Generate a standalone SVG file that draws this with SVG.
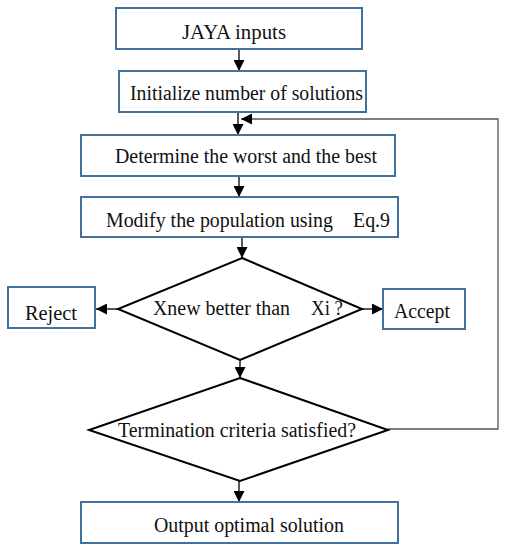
<svg xmlns="http://www.w3.org/2000/svg" width="505" height="550" viewBox="0 0 505 550">
<defs>
<style>
.box{fill:#fff;stroke:#41719c;stroke-width:2}
.dia{fill:#fff;stroke:#000;stroke-width:2}
.t{font-family:'Liberation Serif','DejaVu Serif',serif;font-size:20px;fill:#111}
.c{stroke:#000;stroke-width:1.3;fill:none}
.fb{stroke:#555;stroke-width:1.3;fill:none}
</style>
<marker id="ah" viewBox="0 0 10 10" refX="10" refY="5" markerWidth="11" markerHeight="11" markerUnits="userSpaceOnUse" orient="auto">
<path d="M0,0 L10,5 L0,10 z" fill="#000"/>
</marker>
</defs>
<rect width="505" height="550" fill="#fff"/>
<g id="connectors">
<line class="c" x1="239" y1="49" x2="239" y2="71" marker-end="url(#ah)"/>
<line class="c" x1="238" y1="112" x2="238" y2="135" marker-end="url(#ah)"/>
<line class="c" x1="239" y1="176" x2="239" y2="197" marker-end="url(#ah)"/>
<line class="c" x1="242" y1="237" x2="242" y2="258" marker-end="url(#ah)"/>
<line class="c" x1="118" y1="309" x2="96" y2="309" marker-end="url(#ah)"/>
<line class="c" x1="362" y1="309" x2="383" y2="309" marker-end="url(#ah)"/>
<line class="c" x1="240" y1="360" x2="240" y2="378" marker-end="url(#ah)"/>
<line class="c" x1="239" y1="481" x2="239" y2="502" marker-end="url(#ah)"/>
<polyline class="fb" points="388,429 498,429 498,119 241,119" marker-end="url(#ah)"/>
</g>
<g id="n1"><rect class="box" x="116" y="8" width="246" height="41"/><text class="t" x="182" y="39" textLength="104" lengthAdjust="spacingAndGlyphs">JAYA inputs</text></g>
<g id="n2"><rect class="box" x="119" y="71" width="247" height="41"/><text class="t" x="130" y="100" textLength="233" lengthAdjust="spacingAndGlyphs">Initialize number of solutions</text></g>
<g id="n3"><rect class="box" x="81" y="135" width="314" height="41"/><text class="t" x="115" y="163" textLength="262" lengthAdjust="spacingAndGlyphs">Determine the worst and the best</text></g>
<g id="n4"><rect class="box" x="81" y="197" width="317" height="40"/><text class="t" x="106" y="227" textLength="227" lengthAdjust="spacingAndGlyphs">Modify the population using</text><text class="t" x="353" y="227" textLength="37" lengthAdjust="spacingAndGlyphs">Eq.9</text></g>
<g id="d1"><polygon class="dia" points="242,258 362,309 240,360 118,309"/><text class="t" x="153" y="315" textLength="137" lengthAdjust="spacingAndGlyphs">Xnew better than</text><text class="t" x="311" y="315" textLength="32" lengthAdjust="spacingAndGlyphs">Xi ?</text></g>
<g id="reject"><rect class="box" x="8" y="287" width="87" height="41"/><text class="t" x="25" y="320" textLength="52" lengthAdjust="spacingAndGlyphs">Reject</text></g>
<g id="accept"><rect class="box" x="383" y="289" width="82" height="40"/><text class="t" x="394" y="318" textLength="56" lengthAdjust="spacingAndGlyphs">Accept</text></g>
<g id="d2"><polygon class="dia" points="240,378 388,430 240,481 89,430"/><text class="t" x="118" y="437" textLength="238" lengthAdjust="spacingAndGlyphs">Termination criteria satisfied?</text></g>
<g id="n5"><rect class="box" x="81" y="502" width="317" height="41"/><text class="t" x="154" y="532" textLength="190" lengthAdjust="spacingAndGlyphs">Output optimal solution</text></g>
</svg>
